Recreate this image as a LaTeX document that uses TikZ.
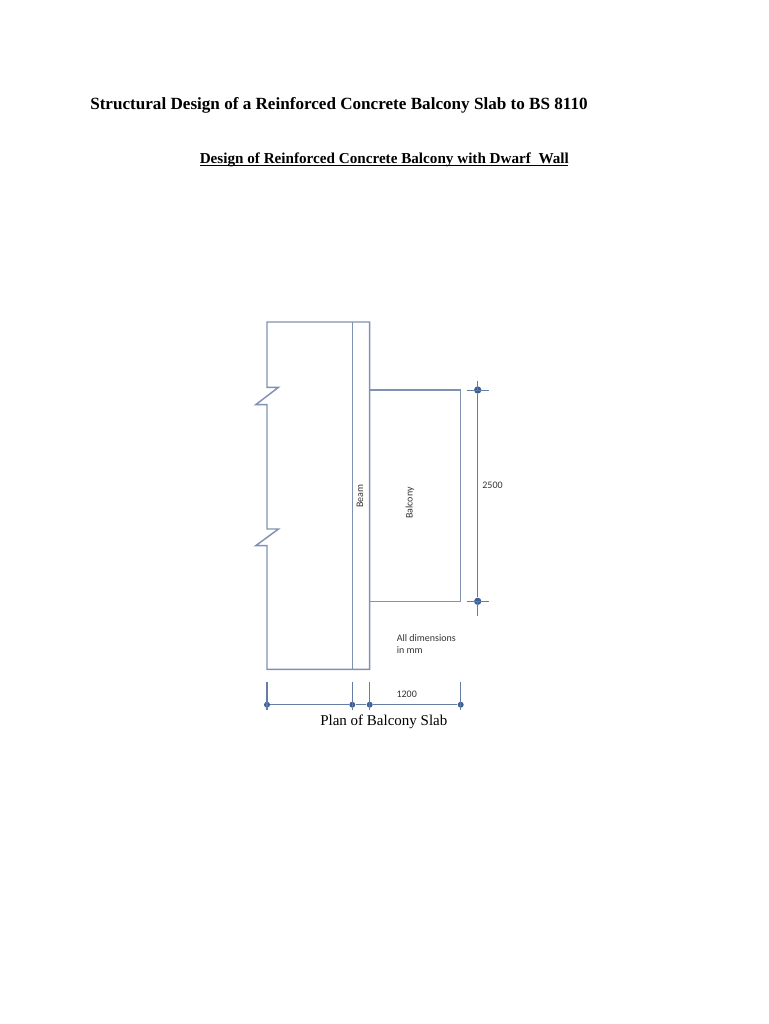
\documentclass[tikz,border=0pt]{standalone}
\usepackage{fontspec}
\setmainfont{Liberation Serif}
\newfontfamily\labelfont{Carlito}
\definecolor{planline}{RGB}{128,146,178}
\definecolor{dimline}{RGB}{100,125,165}
\definecolor{dimdot}{RGB}{60,96,150}
\tikzset{
	planedge/.style={draw=planline, line width=1.1pt},
	dimedge/.style={draw=dimline, line width=1pt},
	bigdot/.style={circle, fill=dimdot, inner sep=0pt, minimum size=5.5pt},
	smalldot/.style={circle, fill=dimdot, inner sep=0pt, minimum size=4.5pt},
	smalltext/.style={font=\labelfont\fontsize{7.5pt}{9.4pt}\selectfont, text=black!80, inner sep=0pt}
}
\begin{document}
\begin{tikzpicture}[x=0.75pt, y=-0.75pt]
	\useasboundingbox (0,0) rectangle (768,1024);

	\node[font=\bfseries\fontsize{12.83pt}{15pt}\selectfont, anchor=base west, inner sep=0pt] (title) at (90,109.5) {Structural Design of a Reinforced Concrete Balcony Slab to BS 8110};
	\node[font=\bfseries\fontsize{11.37pt}{13pt}\selectfont, anchor=base west, inner sep=0pt] (subtitle) at (199.5,163) {Design of Reinforced Concrete Balcony with Dwarf\ \ Wall};
	\draw[line width=0.6pt] (199.5,165.5) -- (568,165.5);

	% slab outline with the two break marks
	\draw[planedge] (369.7,322) -- (267,322) -- (267,387.3) -- (278.5,387.3) -- (255.7,404.7) -- (267,404.7)
		-- (267,529) -- (278.5,529) -- (255.7,545.7) -- (267,545.7) -- (267,669.3) -- (369.7,669.3) -- cycle;
	\draw[planedge] (352.3,322) -- (352.3,669.3);
	\draw[planedge] (369.7,390) -- (460.7,390) -- (460.7,601.3) -- (369.7,601.3);

	% dimension for the depth
	\node[bigdot] (dimtop) at (477.7,390) {};
	\node[bigdot] (dimbot) at (477.7,601.3) {};
	\draw[dimedge] (dimtop) -- (dimbot);
	\draw[dimedge] (dimtop.center) -- (477.7,381);
	\draw[dimedge] (dimbot.center) -- (477.7,616);
	\draw[dimedge, line width=0.7pt] (466.7,390) -- (489.3,390);
	\draw[dimedge, line width=0.7pt] (466.7,601.3) -- (489.3,601.3);

	% dimension along the bottom
	\node[smalldot] (dima) at (267,704.7) {};
	\node[smalldot] (dimb) at (352.3,704.7) {};
	\node[smalldot] (dimc) at (369.7,704.7) {};
	\node[smalldot] (dimd) at (460.7,704.7) {};
	\draw[dimedge] (dima) -- (dimb);
	\draw[dimedge] (dimb) -- (dimc);
	\draw[dimedge] (dimc) -- (dimd);
	\foreach \tick in {267,352.3,369.7,460.7}
		\draw[dimedge] (\tick,681.7) -- (\tick,710);

	\node[smalltext, rotate=90] (beam) at (360,496) {Beam};
	\node[smalltext, rotate=90] (balcony) at (410,503) {Balcony};
	\node[smalltext] (depth) at (492.5,485.5) {2500};
	\node[smalltext] (width) at (406.7,694) {1200};
	\node[smalltext, align=left, anchor=north west] (note) at (396.5,634) {All dimensions\\in mm};
	\node[font=\fontsize{11.25pt}{13pt}\selectfont, inner sep=0pt, anchor=base west] (caption) at (320,725) {Plan of Balcony Slab};
\end{tikzpicture}
\end{document}
